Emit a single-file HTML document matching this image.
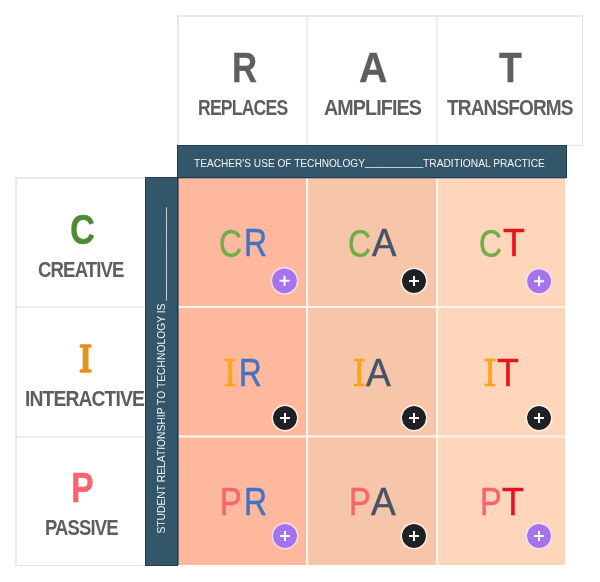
<!DOCTYPE html>
<html lang="en">
<head>
<meta charset="utf-8">
<title>PICRAT Matrix</title>
<style>
html,body{margin:0;padding:0;background:#fff}
body{width:600px;height:582px;position:relative;overflow:hidden;font-family:"Liberation Sans",sans-serif}
.box{position:absolute;box-sizing:border-box;background:#fff;border-style:solid;border-color:#e9e9e9 #e5e5e5 #e5e5e5 #e9e9e9;border-width:2px 1px 1px 2px}
.ln{position:absolute;background:#eee}
.bar{position:absolute;box-sizing:border-box;background:#34566a;border:1px solid #193b53}
.edge{position:absolute}
.grid{position:absolute;left:178px;top:178px;width:387px;height:387px;background:#fff5ef}
.cell{position:absolute}
.c1{background:#feb89d}.c2{background:#f7c5a7}.c3{background:#ffd5bc}
.t{position:absolute;white-space:pre;transform-origin:0 0;display:block}
.s{font-family:"Liberation Sans",sans-serif}
.m{font-family:"DejaVu Serif","Liberation Serif",serif}
.mo{font-family:"DejaVu Sans Mono","Liberation Mono",monospace}
.bd{font-weight:bold;color:#5e5e5e}
.rg{font-weight:normal}
.w{color:#f1f4f6}
.hc{color:#4f8a33}.hi{color:#e3921b}.hp{color:#f8636f}
.cg{color:#70ad47}.cb{color:#4472c4}.cn{color:#44546a}.cr{color:#e8141c}.co{color:#ffa31a}.cp{color:#f7656d}
.btn{position:absolute;width:30px;height:30px;overflow:visible}
.btn .ring{fill:none;stroke:rgba(255,255,255,.72);stroke-width:1.5}
.pu .ring{stroke:rgba(238,226,252,.85)}
.btn .pl{stroke:#fff;stroke-width:2;fill:none}
.pu .bg{fill:#a673ee}.bk .bg{fill:#1f2125}
</style>
</head>
<body>
<div class="box" style="left:177px;top:15px;width:406px;height:131px"></div>
<div class="ln" style="left:306px;top:17px;width:2px;height:128px"></div>
<div class="ln" style="left:436px;top:17px;width:2px;height:128px"></div>
<div class="box" style="left:15px;top:177px;width:140px;height:389px"></div>
<div class="ln" style="left:17px;top:306px;width:129px;height:2px"></div>
<div class="ln" style="left:17px;top:436px;width:129px;height:2px"></div>
<div class="colheads">
<div class="head"><span class="t s bd" style="left:231.62px;top:45.5px;font-size:42.6px;line-height:42.6px;transform:scaleX(0.814);-webkit-text-stroke:0.3px currentColor">R</span><span class="t s bd" style="left:197.51px;top:96.51px;font-size:21.56px;line-height:21.56px;transform:scaleX(0.817);letter-spacing:-1.0px">REPLACES</span></div>
<div class="head"><span class="t s bd" style="left:358.62px;top:45.66px;font-size:42.6px;line-height:42.6px;transform:scaleX(0.921);-webkit-text-stroke:0.3px currentColor">A</span><span class="t s bd" style="left:323.73px;top:96.72px;font-size:21.56px;line-height:21.56px;transform:scaleX(0.915);letter-spacing:-1.0px">AMPLIFIES</span></div>
<div class="head"><span class="t s bd" style="left:498.67px;top:45.66px;font-size:42.6px;line-height:42.6px;transform:scaleX(0.878);-webkit-text-stroke:0.3px currentColor">T</span><span class="t s bd" style="left:446.53px;top:96.72px;font-size:21.56px;line-height:21.56px;transform:scaleX(0.885);letter-spacing:-1.0px">TRANSFORMS</span></div>
</div>
<div class="rowheads">
<div class="head"><span class="t s bd hc" style="left:69.73px;top:207.6px;font-size:42.6px;line-height:42.6px;transform:scaleX(0.813);-webkit-text-stroke:0.3px currentColor">C</span><span class="t s bd" style="left:37.73px;top:258.52px;font-size:21.56px;line-height:21.56px;transform:scaleX(0.862);letter-spacing:-1.0px">CREATIVE</span></div>
<div class="head"><span class="t m rg hi" style="left:78.53px;top:340.64px;font-size:37.15px;line-height:37.15px;transform:scaleX(0.896);-webkit-text-stroke:1.7px currentColor;text-shadow:1.4px 0 0 currentColor,-1.4px 0 0 currentColor">I</span><span class="t s bd" style="left:24.65px;top:387.72px;font-size:21.56px;line-height:21.56px;transform:scaleX(0.896);letter-spacing:-1.0px">INTERACTIVE</span></div>
<div class="head"><span class="t s bd hp" style="left:70.64px;top:465.66px;font-size:42.6px;line-height:42.6px;transform:scaleX(0.8);-webkit-text-stroke:0.3px currentColor">P</span><span class="t s bd" style="left:44.67px;top:516.67px;font-size:21.56px;line-height:21.56px;transform:scaleX(0.857);letter-spacing:-1.0px">PASSIVE</span></div>
</div>
<div class="grid"></div>
<div class="item">
<div class="cell c1" style="left:178px;top:178px;width:128px;height:128px"></div>
<div class="code"><span class="t s rg cg" style="left:218.55px;top:223.53px;font-size:39.6px;line-height:39.6px;transform:scaleX(0.804);-webkit-text-stroke:0.5px currentColor">C</span><span class="t s rg cb" style="left:243.68px;top:222.76px;font-size:39.6px;line-height:39.6px;transform:scaleX(0.808);-webkit-text-stroke:0.5px currentColor">R</span></div>
<svg class="btn pu" style="left:269px;top:265px" viewBox="0 0 30 30"><circle class="bg" cx="15.5" cy="15.8" r="12.4"/><circle class="ring" cx="15.5" cy="15.8" r="13.15"/><path class="pl" d="M10.5 15.8h10M15.5 10.8v10"/></svg>
</div>
<div class="item">
<div class="cell c2" style="left:308px;top:178px;width:128px;height:128px"></div>
<div class="code"><span class="t s rg cg" style="left:347.55px;top:223.53px;font-size:39.6px;line-height:39.6px;transform:scaleX(0.804);-webkit-text-stroke:0.5px currentColor">C</span><span class="t s rg cn" style="left:371.68px;top:222.76px;font-size:39.6px;line-height:39.6px;transform:scaleX(0.923);-webkit-text-stroke:0.5px currentColor">A</span></div>
<svg class="btn bk" style="left:399px;top:265px" viewBox="0 0 30 30"><circle class="bg" cx="15" cy="15.9" r="12"/><circle class="ring" cx="15" cy="15.9" r="12.75"/><path class="pl" d="M10 15.9h10M15 10.9v10"/></svg>
</div>
<div class="item">
<div class="cell c3" style="left:438px;top:178px;width:127px;height:128px"></div>
<div class="code"><span class="t s rg cg" style="left:478.85px;top:223.53px;font-size:39.6px;line-height:39.6px;transform:scaleX(0.804);-webkit-text-stroke:0.5px currentColor">C</span><span class="t s rg cr" style="left:502.72px;top:222.76px;font-size:39.6px;line-height:39.6px;transform:scaleX(0.905);-webkit-text-stroke:0.5px currentColor">T</span></div>
<svg class="btn pu" style="left:524px;top:266px" viewBox="0 0 30 30"><circle class="bg" cx="15.1" cy="15.2" r="12"/><circle class="ring" cx="15.1" cy="15.2" r="12.75"/><path class="pl" d="M10.1 15.2h10M15.1 10.2v10"/></svg>
</div>
<div class="item">
<div class="cell c1" style="left:178px;top:308px;width:128px;height:128px"></div>
<div class="code"><span class="t m rg co" style="left:222.68px;top:354.61px;font-size:37.6px;line-height:37.6px;transform:scaleX(0.96);-webkit-text-stroke:0.5px currentColor">I</span><span class="t s rg cb" style="left:238.62px;top:352.56px;font-size:39.6px;line-height:39.6px;transform:scaleX(0.795);-webkit-text-stroke:0.5px currentColor">R</span></div>
<svg class="btn bk" style="left:270px;top:403px" viewBox="0 0 30 30"><circle class="bg" cx="15" cy="15" r="12"/><circle class="ring" cx="15" cy="15" r="12.75"/><path class="pl" d="M10 15h10M15 10v10"/></svg>
</div>
<div class="item">
<div class="cell c2" style="left:308px;top:308px;width:128px;height:128px"></div>
<div class="code"><span class="t m rg co" style="left:351.68px;top:354.61px;font-size:37.6px;line-height:37.6px;transform:scaleX(0.96);-webkit-text-stroke:0.5px currentColor">I</span><span class="t s rg cn" style="left:365.65px;top:352.56px;font-size:39.6px;line-height:39.6px;transform:scaleX(0.937);-webkit-text-stroke:0.5px currentColor">A</span></div>
<svg class="btn bk" style="left:399px;top:403px" viewBox="0 0 30 30"><circle class="bg" cx="15" cy="15" r="12"/><circle class="ring" cx="15" cy="15" r="12.75"/><path class="pl" d="M10 15h10M15 10v10"/></svg>
</div>
<div class="item">
<div class="cell c3" style="left:438px;top:308px;width:127px;height:128px"></div>
<div class="code"><span class="t m rg co" style="left:482.75px;top:354.61px;font-size:37.6px;line-height:37.6px;transform:scaleX(0.948);-webkit-text-stroke:0.5px currentColor">I</span><span class="t s rg cr" style="left:496.7px;top:352.56px;font-size:39.6px;line-height:39.6px;transform:scaleX(0.902);-webkit-text-stroke:0.5px currentColor">T</span></div>
<svg class="btn bk" style="left:524px;top:403px" viewBox="0 0 30 30"><circle class="bg" cx="15" cy="15" r="12"/><circle class="ring" cx="15" cy="15" r="12.75"/><path class="pl" d="M10 15h10M15 10v10"/></svg>
</div>
<div class="item">
<div class="cell c1" style="left:178px;top:437px;width:128px;height:128px"></div>
<div class="code"><span class="t s rg cp" style="left:219.66px;top:481.76px;font-size:39.6px;line-height:39.6px;transform:scaleX(0.824);-webkit-text-stroke:0.5px currentColor">P</span><span class="t s rg cb" style="left:243.68px;top:481.76px;font-size:39.6px;line-height:39.6px;transform:scaleX(0.808);-webkit-text-stroke:0.5px currentColor">R</span></div>
<svg class="btn pu" style="left:270px;top:521px" viewBox="0 0 30 30"><circle class="bg" cx="15" cy="15" r="12"/><circle class="ring" cx="15" cy="15" r="12.75"/><path class="pl" d="M10 15h10M15 10v10"/></svg>
</div>
<div class="item">
<div class="cell c2" style="left:308px;top:437px;width:128px;height:128px"></div>
<div class="code"><span class="t s rg cp" style="left:348.66px;top:481.76px;font-size:39.6px;line-height:39.6px;transform:scaleX(0.824);-webkit-text-stroke:0.5px currentColor">P</span><span class="t s rg cn" style="left:370.7px;top:481.76px;font-size:39.6px;line-height:39.6px;transform:scaleX(0.937);-webkit-text-stroke:0.5px currentColor">A</span></div>
<svg class="btn bk" style="left:399px;top:521px" viewBox="0 0 30 30"><circle class="bg" cx="15" cy="15" r="12"/><circle class="ring" cx="15" cy="15" r="12.75"/><path class="pl" d="M10 15h10M15 10v10"/></svg>
</div>
<div class="item">
<div class="cell c3" style="left:438px;top:437px;width:127px;height:128px"></div>
<div class="code"><span class="t s rg cp" style="left:479.66px;top:481.76px;font-size:39.6px;line-height:39.6px;transform:scaleX(0.824);-webkit-text-stroke:0.5px currentColor">P</span><span class="t s rg cr" style="left:501.65px;top:481.76px;font-size:39.6px;line-height:39.6px;transform:scaleX(0.902);-webkit-text-stroke:0.5px currentColor">T</span></div>
<svg class="btn pu" style="left:524px;top:521px" viewBox="0 0 30 30"><circle class="bg" cx="15" cy="15" r="12"/><circle class="ring" cx="15" cy="15" r="12.75"/><path class="pl" d="M10 15h10M15 10v10"/></svg>
</div>
<div class="edge" style="left:178px;top:435px;width:387px;height:1px;background:rgba(255,245,239,.5)"></div>
<div class="edge" style="left:178px;top:437px;width:387px;height:1px;background:rgba(255,245,239,.5)"></div>
<div class="bar" style="left:177px;top:145px;width:390px;height:33px"></div>
<div class="bar" style="left:145px;top:177px;width:33px;height:389px"></div>
<div class="edge" style="left:178px;top:178px;width:1px;height:387px;background:rgba(31,65,89,.6)"></div>
<div class="edge" style="left:178px;top:178px;width:388px;height:1px;background:rgba(31,65,89,.3)"></div>
<div class="axis"><span class="t s rg w" style="left:193.53px;top:157.56px;font-size:11.58px;line-height:11.58px;transform:scaleX(0.874)">TEACHER&#39;S USE OF TECHNOLOGY</span><span class="t s rg w" style="left:364.74px;top:156.56px;font-size:11.58px;line-height:11.58px;transform:scaleX(0.904)">__________</span><span class="t s rg w" style="left:422.52px;top:157.6px;font-size:11.58px;line-height:11.58px;transform:scaleX(0.884)">TRADITIONAL PRACTICE</span></div>
<div class="axis"><span class="t s rg w" style="left:0;top:0;font-size:11.28px;line-height:11.28px;transform:translate(155.8px,533.6px) rotate(-90deg) scaleX(0.915)">STUDENT RELATIONSHIP TO TECHNOLOGY IS</span><span class="t s rg w" style="left:0;top:0;font-size:11.28px;line-height:11.28px;transform:translate(155.65px,300.47px) rotate(-90deg) scaleX(0.927)">________________</span></div>
</body>
</html>
